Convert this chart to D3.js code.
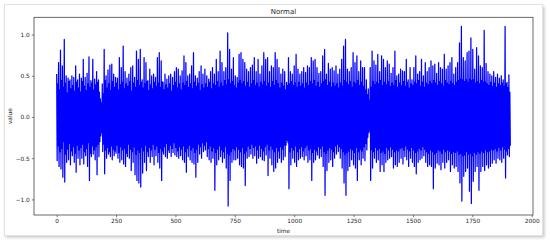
<!DOCTYPE html>
<html><head><meta charset="utf-8">
<script src="https://cdn.jsdelivr.net/npm/d3@7"></script>
<style>
body{margin:0;background:#fff}
svg{display:block}
text{font-family:"DejaVu Sans",sans-serif;fill:#262626}
</style>
</head><body>
<svg id="c" width="550" height="242"></svg>
<script>
const title = "Normal";
const xLabel = "time";
const yLabel = "value";
const timeStep = 2;
// series values (dense signal, downsampled: peak, trough, then two inner swings)
const values = [
.52,-.53,.40,-.35, .66,-.60,.33,-.42, .81,-.63,.44,-.38, .62,-.73,.36,-.30, .94,-.79,.41,-.45, .50,-.55,.29,-.39, .47,-.52,.43,-.32, .45,-.58,.34,-.41, .50,-.47,.38,-.36, .48,-.55,.31,-.44,
.62,-.67,.42,-.34, .45,-.50,.35,-.40, .52,-.58,.30,-.37, .47,-.50,.43,-.33, .70,-.57,.37,-.42, .48,-.47,.32,-.38, .53,-.60,.40,-.31, .73,-.77,.36,-.44, .44,-.48,.41,-.35, .70,-.45,.33,-.40,
.46,-.52,.39,-.36, .55,-.70,.42,-.33, .45,-.48,.30,-.30, .22,-.23,.17,-.19, .40,-.42,.28,-.33, .82,-.69,.44,-.40, .50,-.50,.35,-.37, .57,-.45,.40,-.42, .63,-.48,.32,-.35, .64,-.52,.43,-.39,
.52,-.47,.36,-.41, .48,-.44,.41,-.34, .47,-.50,.33,-.43, .72,-.55,.39,-.36, .60,-.52,.42,-.40,
.86,-.57,.34,-.38, .55,-.60,.40,-.44, .47,-.48,.37,-.33, .52,-.50,.43,-.39, .60,-.65,.31,-.42, .62,-.55,.41,-.36, .48,-.70,.36,-.45, .80,-.77,.44,-.40, .70,-.80,.38,-.43, .82,-.85,.42,-.37,
.45,-.68,.35,-.41, .72,-.55,.40,-.34, .66,-.65,.43,-.42, .44,-.48,.32,-.37, .58,-.55,.39,-.40, .50,-.48,.34,-.33, .52,-.58,.42,-.39, .48,-.47,.37,-.35, .72,-.55,.41,-.43, .78,-.62,.36,-.38,
.68,-.77,.43,-.41, .42,-.45,.33,-.36, .52,-.48,.39,-.32, .46,-.50,.35,-.40, .50,-.43,.40,-.34, .52,-.48,.31,-.38, .48,-.43,.38,-.31, .55,-.46,.42,-.37, .60,-.48,.35,-.41, .58,-.50,.40,-.36,
.50,-.47,.33,-.39, .56,-.52,.41,-.35, .74,-.55,.38,-.42, .66,-.67,.43,-.38, .50,-.48,.36,-.34, .52,-.52,.40,-.40, .62,-.55,.34,-.37, .78,-.57,.42,-.43,
.50,-.73,.37,-.39, .47,-.55,.41,-.33, .55,-.45,.32,-.36, .62,-.50,.39,-.31, .52,-.42,.35,-.34, .58,-.40,.40,-.30, .50,-.48,.36,-.38, .46,-.52,.42,-.35, .55,-.55,.34,-.41, .60,-.50,.40,-.37,
.52,-.89,.38,-.43, .70,-.58,.43,-.39, .55,-.52,.36,-.35, .80,-.48,.41,-.40, .66,-.55,.37,-.42, .55,-.50,.44,-.36, .60,-.62,.39,-.44, 1.02,-1.08,.45,-.46, .82,-.77,.40,-.42, .58,-.55,.43,-.38,
.72,-.52,.38,-.40, .50,-.52,.35,-.36, .48,-.50,.41,-.39, .76,-.58,.44,-.42, .78,-.60,.40,-.37, .70,-.62,.43,-.44, .66,-.83,.37,-.41, .58,-.50,.42,-.35, .55,-.48,.36,-.38, .60,-.45,.40,-.33,
.63,-.50,.44,-.37, .72,-.47,.38,-.35, .55,-.56,.41,-.40, .70,-.50,.36,-.34, .52,-.48,.42,-.38, .62,-.52,.39,-.41, .78,-.53,.43,-.36, .70,-.46,.37,-.33,
.72,-.71,.41,-.40, .55,-.50,.36,-.35, .62,-.58,.43,-.39, .60,-.66,.38,-.42, .78,-.62,.44,-.37, .70,-.55,.40,-.41, .60,-.50,.35,-.36, .52,-.55,.41,-.39, .58,-.52,.37,-.34, .55,-.48,.33,-.34,
.42,-.28,.38,-.31, .72,-.87,.40,-.42, .55,-.58,.43,-.37, .52,-.50,.38,-.40, .62,-.55,.41,-.35, .76,-.60,.36,-.42, .58,-.52,.42,-.38, .52,-.50,.37,-.36, .55,-.48,.40,-.41, .60,-.52,.35,-.37,
.54,-.47,.41,-.34, .62,-.55,.38,-.40, .60,-.52,.43,-.38, .72,-.77,.40,-.43, .68,-.55,.44,-.39, .70,-.52,.37,-.41, .60,-.46,.42,-.36, .53,-.50,.36,-.38, .55,-.48,.40,-.35, .74,-.60,.43,-.42,
.82,-.95,.45,-.44, .52,-.65,.38,-.40, .65,-.55,.42,-.37, .58,-.52,.36,-.39, .60,-.60,.41,-.42, .56,-.50,.37,-.35, .62,-.45,.40,-.33, .52,-.42,.35,-.36,
.58,-.50,.41,-.38, .70,-.62,.37,-.42, .86,-.80,.44,-.45, .94,-.95,.42,-.43, .58,-.65,.39,-.41, .55,-.60,.43,-.38, .60,-.52,.36,-.40, .78,-.58,.42,-.43, .66,-.62,.40,-.37, .74,-.77,.44,-.42,
.55,-.52,.38,-.39, .68,-.58,.42,-.41, .60,-.50,.37,-.36, .60,-.53,.33,-.32, .45,-.40,.27,-.25, .34,-.19,.20,-.17, .60,-.77,.36,-.40, .80,-.62,.43,-.42, .68,-.50,.39,-.37, .63,-.55,.42,-.40,
.76,-.52,.40,-.38, .55,-.66,.44,-.43, .74,-.58,.38,-.41, .70,-.66,.42,-.44, .60,-.55,.39,-.37, .68,-.52,.43,-.40, .64,-.50,.37,-.36, .53,-.48,.41,-.39, .60,-.62,.38,-.42, .80,-.58,.44,-.40,
.50,-.60,.36,-.41, .52,-.55,.41,-.38, .58,-.50,.38,-.37, .56,-.57,.43,-.40, .55,-.48,.37,-.35, .70,-.52,.42,-.39, .45,-.60,.35,-.41, .60,-.50,.40,-.37,
.45,-.55,.38,-.40, .60,-.60,.42,-.43, .74,-.69,.40,-.41, .52,-.55,.44,-.38, .55,-.52,.37,-.40, .70,-.50,.42,-.36, .50,-.47,.36,-.39, .66,-.55,.41,-.42, .55,-.60,.39,-.44, .60,-.58,.43,-.40,
.68,-.60,.40,-.42, .62,-.87,.44,-.45, .64,-.62,.41,-.43, .53,-.56,.38,-.40, .66,-.58,.43,-.41, .60,-.64,.40,-.44, .58,-.55,.37,-.39, .76,-.62,.44,-.42, .58,-.55,.41,-.40, .62,-.52,.39,-.41,
.66,-.66,.43,-.44, .72,-.58,.40,-.42, .52,-.62,.38,-.43, .60,-.60,.42,-.41, .66,-.66,.44,-.45, .90,-.80,.46,-.44, 1.10,-1.02,.45,-.47, .72,-.72,.43,-.46, .68,-.66,.45,-.42, .78,-.62,.42,-.45,
.80,-.90,.46,-.44, .96,-1.05,.44,-.47, .82,-.78,.45,-.43, .58,-.66,.41,-.45, .84,-.60,.43,-.42, .74,-.89,.40,-.44, .62,-.66,.44,-.41, .60,-.60,.42,-.43,
1.05,-.65,.43,-.40, .65,-.58,.40,-.42, .55,-.62,.38,-.41, .52,-.60,.42,-.39, .50,-.56,.37,-.40, .55,-.52,.41,-.38, .48,-.56,.36,-.41, .52,-.50,.40,-.37, .47,-.52,.38,-.40, .50,-.55,.41,-.36,
.45,-.50,.37,-.39, 1.10,-.74,.40,-.41, .42,-.46,.36,-.38, .51,-.48,.30,-.35
];
const xTicks = [0,250,500,750,1000,1250,1500,1750,2000];
const yTicks = [-1.0,-0.5,0.0,0.5,1.0];

const data = values.map((v,i)=>({t:i*timeStep, v}));

const svg = d3.select("#c");
const defs = svg.append("defs");
const f = defs.append("filter").attr("id","sh").attr("x","-5%").attr("y","-5%").attr("width","110%").attr("height","115%");
f.append("feGaussianBlur").attr("stdDeviation",1.6);

// card with shadow
svg.append("rect").attr("x",5.5).attr("y",6.5).attr("width",539).attr("height",231)
  .attr("fill","#c8c8c8").attr("filter","url(#sh)");
svg.append("rect").attr("x",4.5).attr("y",4.5).attr("width",538).attr("height",231)
  .attr("fill","#fff").attr("stroke","#e2e2e2").attr("stroke-width",1);

const L=34, R=533, T=17.3, B=215;
const [t0,t1] = d3.extent(data,d=>d.t);
const [v0,v1] = d3.extent(data,d=>d.v);
const mx=(t1-t0)*0.05, my=(v1-v0)*0.05;
const x = d3.scaleLinear().domain([t0-mx,t1+mx]).range([L,R]);
const y = d3.scaleLinear().domain([v0-my,v1+my]).range([B,T]);

svg.append("path").datum(data)
  .attr("d", d3.line().x(d=>x(d.t)).y(d=>y(d.v)))
  .attr("fill","none").attr("stroke","#0000ff").attr("stroke-width",1.25)
  .attr("stroke-linejoin","round");

// frame
svg.append("rect").attr("x",L).attr("y",T).attr("width",R-L).attr("height",B-T)
  .attr("fill","none").attr("stroke","#444").attr("stroke-width",0.8);

const fmt = d => d3.format(".1f")(d).replace("-","\u2212");
const xa = svg.append("g").attr("transform",`translate(0,${B})`)
  .call(d3.axisBottom(x).tickValues(xTicks).tickSize(2.2).tickPadding(2).tickFormat(d3.format("d")));
const ya = svg.append("g").attr("transform",`translate(${L},0)`)
  .call(d3.axisLeft(y).tickValues(yTicks).tickSize(2.2).tickPadding(2).tickFormat(fmt));
[xa,ya].forEach(a=>{
  a.select(".domain").remove();
  a.selectAll(".tick line").attr("stroke","#444").attr("stroke-width",0.7);
  a.selectAll(".tick text").attr("font-family","DejaVu Sans").attr("font-size",5.8).attr("fill","#262626");
});

svg.append("text").attr("x",(L+R)/2).attr("y",13.5).attr("text-anchor","middle")
  .attr("font-size",7).text(title);
svg.append("text").attr("x",(L+R)/2).attr("y",233).attr("text-anchor","middle")
  .attr("font-size",5.8).text(xLabel);
svg.append("text").attr("transform",`translate(12,${(T+B)/2}) rotate(-90)`).attr("text-anchor","middle")
  .attr("font-size",5.8).text(yLabel);
</script>
</body></html>
